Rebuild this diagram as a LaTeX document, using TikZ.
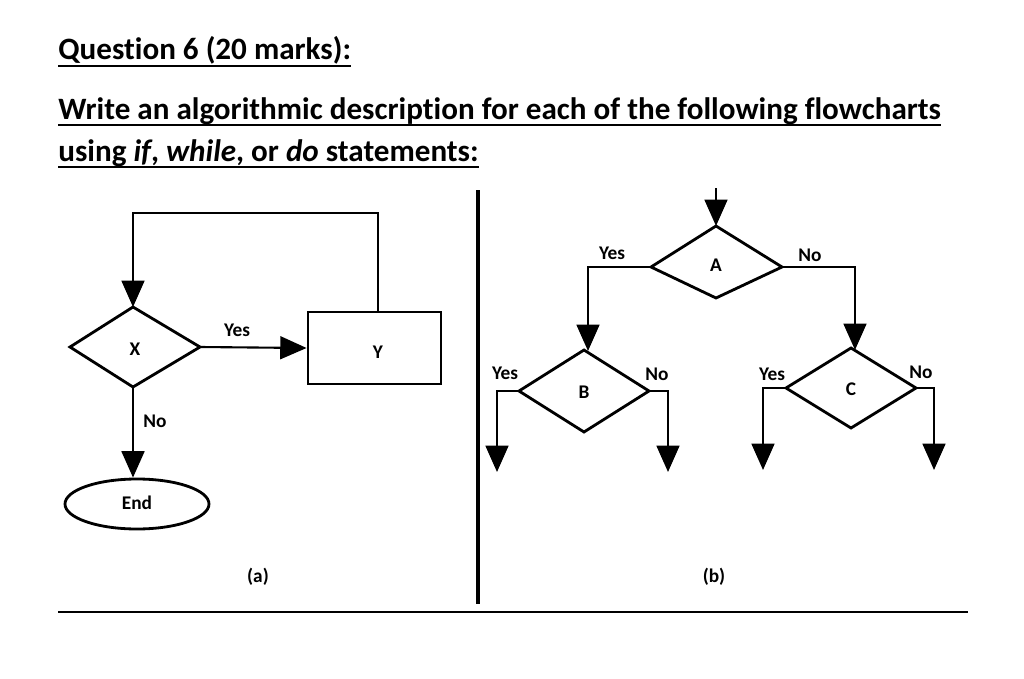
\documentclass[tikz,border=0pt]{standalone}
\usepackage{fontspec}
\setmainfont{Carlito}[Ligatures={NoCommon}]
\usetikzlibrary{shapes.geometric,arrows.meta}
\begin{document}
\begin{tikzpicture}[x=0.02cm,y=-0.02cm,
  ln/.style={line width=1.2pt},
  arr/.style={ln,-{Triangle[length=15pt,width=13pt]}},
  lab/.style={font=\bfseries\fontsize{11}{12}\selectfont,inner sep=0pt},
  ul/.style={line width=1pt},
  hd/.style={font=\bfseries\fontsize{17.7}{22}\selectfont,anchor=base west,inner sep=0pt}]
\useasboundingbox (0,0) rectangle (1024,679);
\node[hd] (t1) at (58,60) {Question 6 (20 marks):};
\node[hd] (t2) at (58,119) {Write an algorithmic description for each of the following flowcharts};
\node[hd] (t3) at (58,161) {using \textit{if}, \textit{while}, or \textit{do} statements:};
\foreach \t in {t1,t2,t3} \draw[ul] ([yshift=-3.5pt]\t.base west) -- ([yshift=-3.5pt]\t.base east);
% (a)
\draw[line width=1.6pt] (70,347) -- (133,307) -- (200,347) -- (133,387) -- cycle;
\coordinate (xt) at (133,307); \coordinate (xr) at (200,347); \coordinate (xb) at (133,387);
\node[lab] (X) at (135,349) {X};
\node[draw,line width=1.6pt,minimum width=133*0.02cm,minimum height=72*0.02cm,inner sep=0pt] (Y) at (374.5,348) {};
\node[lab] (Yl) at (378,352) {Y};
\node[ellipse,draw,line width=1.6pt,minimum width=144*0.02cm,minimum height=50*0.02cm] (E) at (137,504) {};
\node[lab] (El) at (137,503) {End};
\coordinate (c1) at (378,213); \coordinate (c2) at (133,213);
\draw[arr] (Y.north -| 378,0) -- (c1) -- (c2) -- (xt);
\draw[arr] (xr) -- (Y.west);
\draw[arr] (xb) -- (E.north -| 133,0);
\node[lab] (ya) at (237,330) {Yes};
\node[lab] (na) at (155,421) {No};
\node[lab] (a) at (258,577) {(a)};
\coordinate (v1) at (478,190); \coordinate (v2) at (478,604);
\draw[line width=2.6pt] (v1) -- (v2);
\coordinate (h1) at (58,612); \coordinate (h2) at (968,612);
\draw[line width=1.2pt] (h1) -- (h2);
% (b)
\coordinate (At) at (716,226); \coordinate (Al) at (651,267); \coordinate (Ar) at (782,267);
\draw[line width=1.6pt] (At) -- (Ar) -- (716,298) -- (Al) -- cycle;
\node[lab] (A) at (716,265) {A};
\coordinate (in) at (716,188);
\draw[arr] (in) -- (At);
\coordinate (Bt) at (584,350); \coordinate (Bl) at (519,391); \coordinate (Br) at (649,391);
\draw[line width=1.6pt] (Bt) -- (Br) -- (584,432) -- (Bl) -- cycle;
\node[lab] (B) at (584,392) {B};
\coordinate (Ct) at (851,348); \coordinate (Cl) at (786,388); \coordinate (Cr) at (916,388);
\draw[line width=1.6pt] (Ct) -- (Cr) -- (851,428) -- (Cl) -- cycle;
\node[lab] (C) at (851,389) {C};
\coordinate (k1) at (588,267); \coordinate (k2) at (855,267);
\draw[arr] (Al) -- (k1) -- (588,351);
\draw[arr] (Ar) -- (k2) -- (855,350);
\coordinate (b1) at (497,391); \coordinate (b2) at (668,391);
\coordinate (c3) at (763,388); \coordinate (c4) at (934,388);
\draw[arr] (Bl) -- (b1) -- (497,472);
\draw[arr] (Br) -- (b2) -- (668,472);
\draw[arr] (Cl) -- (c3) -- (763,470);
\draw[arr] (Cr) -- (c4) -- (934,470);
\node[lab] (l1) at (612,253) {Yes};
\node[lab] (l2) at (810,255) {No};
\node[lab] (l3) at (505,373) {Yes};
\node[lab] (l4) at (657,374) {No};
\node[lab] (l5) at (772,374) {Yes};
\node[lab] (l6) at (921,372) {No};
\node[lab] (b) at (714,577) {(b)};
\end{tikzpicture}
\end{document}
